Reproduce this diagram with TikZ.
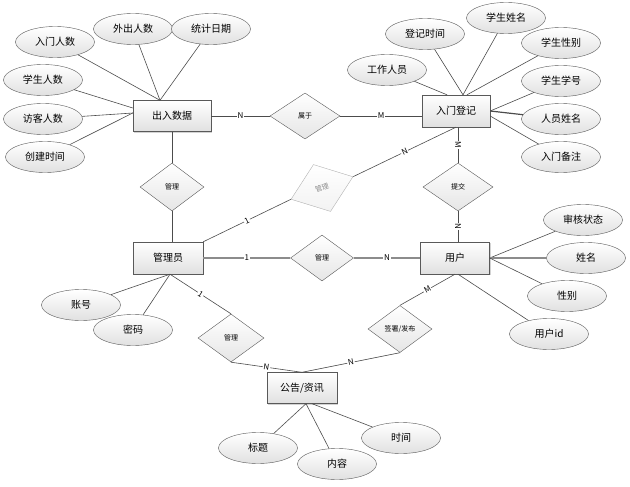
\documentclass[tikz,border=0pt]{standalone}
\usepackage{fontspec}
\setmainfont{Noto Sans CJK SC}
\usetikzlibrary{shapes.geometric,shadows}
\newcommand{\attr}[4]{%
  \node[attr] (#1) at (#2) {#3};
  \draw[link] (#1) -- (#4);}

\begin{document}
\begin{tikzpicture}[x=1pt, y=-1pt, font=\fontsize{10}{12}\selectfont,
  entity/.style={draw=black!65, rectangle, minimum width=70pt, minimum height=31pt,
    top color=white, bottom color=black!12,
    drop shadow={shadow xshift=1.2pt, shadow yshift=-1.2pt, opacity=.35}},
  attr/.style={draw=black!65, ellipse, minimum width=79pt, minimum height=31pt,
    inner sep=0pt, top color=white, bottom color=black!12},
  rel/.style={draw=black!65, diamond, minimum width=66pt, minimum height=48pt,
    inner sep=0pt, top color=white, bottom color=black!10, font=\fontsize{7}{8}\selectfont},
  link/.style={draw=black!70, line width=.6pt},
  card/.style={fill=white, inner sep=.8pt, font=\fontsize{8}{9}\selectfont, sloped}]
  \useasboundingbox (0,0) rectangle (630,487);

  % ---------- entities ----------
  \node[entity, minimum width=78pt] (crsj) at (172,116) {出入数据};
  \node[entity, minimum width=68pt, minimum height=32pt] (rmdj) at (456,111) {入门登记};
  \node[entity, minimum height=32pt] (gly) at (168,258) {管理员};
  \node[entity, minimum width=69pt, minimum height=32pt] (yh) at (455,258) {用户};
  \node[entity] (gg) at (302,388) {公告/资讯};

  % ---------- relations ----------
  \node[rel, minimum width=70pt, minimum height=46pt] (sy) at (305,116) {属于};
  \node[rel, minimum width=64pt] (gl1) at (172,187) {管理};
  \node[rel, draw=black!30, text=black!45, bottom color=black!5, minimum height=50pt,
        rotate=20] (gl2) at (322,188) {管理};
  \node[rel, minimum width=70pt] (tj) at (458,187) {提交};
  \node[rel, minimum width=63pt, minimum height=46pt] (gl3) at (322,258) {管理};
  \node[rel] (gl4) at (231,338) {管理};
  \node[rel, minimum width=64pt, minimum height=47pt] (fb) at (400,329) {签署/发布};

  % ===== 出入数据 =====
  \attr{jrrs}{55,42}{入门人数}{[xshift=-12pt]crsj.north}
  \attr{wcrs}{133,29}{外出人数}{[xshift=-12pt]crsj.north}
  \attr{tjrq}{211,29}{统计日期}{[xshift=-12pt]crsj.north}
  \attr{xsrs}{43,80}{学生人数}{[yshift=8pt]crsj.west}
  \attr{fkrs}{43,119}{访客人数}{[yshift=3pt]crsj.west}
  \attr{cjsj}{45,157}{创建时间}{[yshift=3pt]crsj.west}

  % ===== 入门登记 =====
  \attr{gzry}{387,70}{工作人员}{[xshift=-9pt]rmdj.north}
  \attr{djsj}{425,34}{登记时间}{[xshift=7pt]rmdj.north}
  \attr{xsxm}{506,18}{学生姓名}{[xshift=7pt]rmdj.north}
  \attr{xsxb}{561,43}{学生性别}{[xshift=11pt]rmdj.north}
  \attr{xsxh}{561,81}{学生学号}{rmdj.east}
  \node[attr] (ryxm) at (561,119) {人员姓名};
  \draw[link, line width=1.2pt] (ryxm) -- (rmdj.east);
  \attr{jrbz}{561,157}{入门备注}{[yshift=-5pt]rmdj.east}

  % ===== 用户 =====
  \attr{shzt}{583,220}{审核状态}{yh.east}
  \node[attr] (xm) at (586,258) {姓名};
  \draw[link, draw=black!45, line width=1.8pt] (xm) -- (yh.east);
  \attr{xb}{567,296}{性别}{yh.east}
  \attr{yhid}{549,334}{用户id}{[xshift=3pt]yh.south}

  % ===== 管理员 / 公告 =====
  \attr{zh}{81,305}{账号}{[xshift=2pt]gly.south}
  \attr{mm}{133,330}{密码}{[xshift=2pt]gly.south}
  \attr{bt}{258,448}{标题}{[xshift=4pt]gg.south}
  \attr{nr}{337,464}{内容}{[xshift=4pt]gg.south}
  \attr{sj}{401,438}{时间}{[xshift=10pt]gg.south}

  % ---------- links ----------
  \draw[link] (crsj.east) -- node[card]{N} (sy.west);
  \draw[link] (sy.east) -- node[card]{M} (rmdj.west |- sy.east);
  \draw[link] (crsj.south) -- (gl1.north);
  \draw[link] (gl1.south) -- (gl1.south |- gly.north);
  \draw[link] (gly.north east) -- node[card]{1} (gl2.west);
  \draw[link] (gl2.east) -- node[card]{N} (rmdj.south);
  \draw[link] (rmdj.south -| tj.north) -- node[card]{M} (tj.north);
  \draw[link] (tj.south) -- node[card]{N} (tj.south |- yh.north);
  \draw[link, draw=black!45, line width=1.8pt] (gly.east) -- node[card]{1} (gl3.west);
  \draw[link, draw=black!45, line width=1.8pt] (gl3.east) -- node[card]{N} (yh.west);
  \draw[link] ([xshift=2pt]gly.south) -- node[card]{1} (gl4.north);
  \draw[link] (gl4.south) -- node[card]{N} (gg.north);
  \draw[link] (fb.south) -- node[card]{N} (gg.north);
  \draw[link] (yh.south) -- node[card]{M} (fb.north);

\end{tikzpicture}
\end{document}
